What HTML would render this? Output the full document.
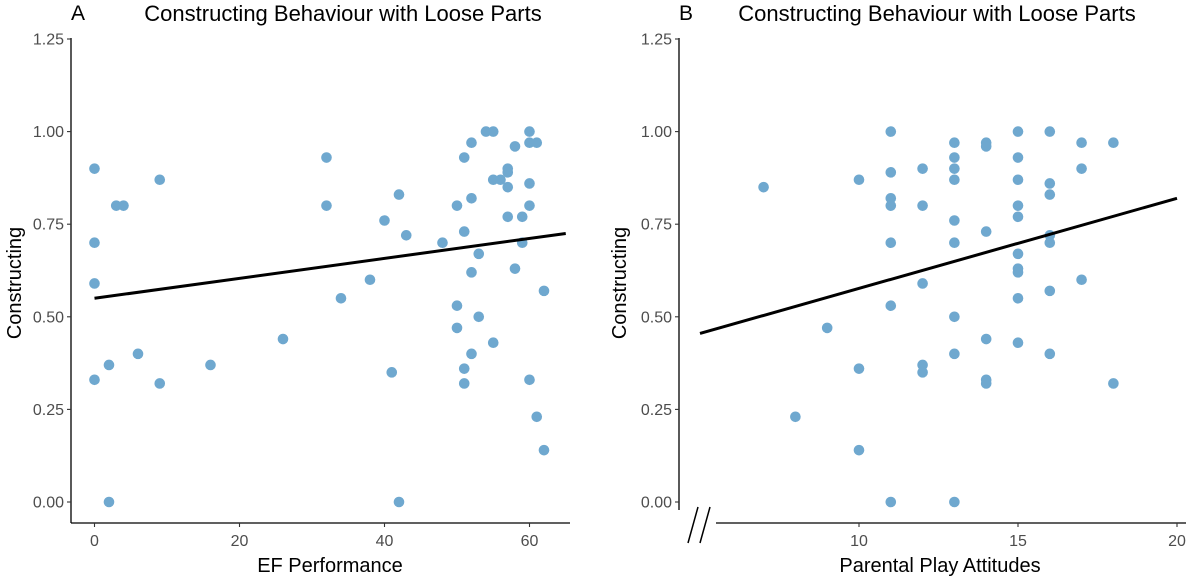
<!DOCTYPE html>
<html><head><meta charset="utf-8"><style>
body{margin:0;background:#fff;}
svg{display:block;font-family:"Liberation Sans",sans-serif;}
</style></head><body>
<svg id="chart" width="1200" height="578" viewBox="0 0 1200 578"></svg>
<script>
const yTicks=[0,0.25,0.5,0.75,1.0,1.25];
const yTickLabels=["0.00","0.25","0.50","0.75","1.00","1.25"];
const aXTicks=[0,20,40,60];
const bXTicks=[10,15,20];
const aEF=[0,0,0,0,2,2,3,4,6,9,9,16,26,32,32,34,38,40,41,42,42,43,48,50,50,50,51,51,51,51,52,52,52,52,53,53,54,55,55,55,56,57,57,57,57,58,58,59,59,60,60,60,60,60,61,61,62,62];
const aConstructing=[0.90,0.70,0.59,0.33,0.37,0,0.80,0.80,0.40,0.87,0.32,0.37,0.44,0.93,0.80,0.55,0.60,0.76,0.35,0.83,0,0.72,0.70,0.80,0.53,0.47,0.93,0.73,0.36,0.32,0.97,0.82,0.62,0.40,0.67,0.50,1.0,1.0,0.87,0.43,0.87,0.90,0.89,0.85,0.77,0.96,0.63,0.77,0.70,1.0,0.97,0.86,0.80,0.33,0.97,0.23,0.57,0.14];
const aFitX=[0,65];
const aFitY=[0.55,0.725];
const bParental=[7,8,9,10,10,10,11,11,11,11,11,11,11,12,12,12,12,12,13,13,13,13,13,13,13,13,13,14,14,14,14,14,14,15,15,15,15,15,15,15,15,15,15,16,16,16,16,16,16,16,17,17,17,18,18];
const bConstructing=[0.85,0.23,0.47,0.87,0.36,0.14,1.0,0.89,0.82,0.80,0.70,0.53,0,0.90,0.80,0.59,0.37,0.35,0.97,0.93,0.90,0.87,0.76,0.70,0.50,0.40,0,0.97,0.96,0.73,0.44,0.33,0.32,1.0,0.93,0.87,0.80,0.77,0.67,0.63,0.62,0.55,0.43,1.0,0.86,0.83,0.72,0.70,0.57,0.40,0.97,0.90,0.60,0.97,0.32];
const bFitX=[5,20];
const bFitY=[0.455,0.82];

const NS="http://www.w3.org/2000/svg";
const svg=document.getElementById('chart');
function el(tag,attrs,parent){const e=document.createElementNS(NS,tag);for(const k in attrs)e.setAttribute(k,attrs[k]);(parent||svg).appendChild(e);return e;}
const yScale=v=>502-v/0.25*92.6;
const xA=v=>94.5+v*(145/20);
const xB=v=>859+(v-10)*(159/5);

function panel(cfg){
  const g=el('g',{});
  
  
  const ya=el('line',{x1:cfg.axX,y1:38,x2:cfg.axX,y2:cfg.yEnd,stroke:'#000','stroke-width':1.3},g);
  
  yTicks.forEach((t,i)=>{
    const y=yScale(t);
    const tk=el('line',{x1:cfg.axX-4,y1:y,x2:cfg.axX,y2:y,stroke:'#333','stroke-width':1.1},g);
    
    const tl=el('text',{x:cfg.axX-7,y:y+5.5,'text-anchor':'end','font-size':16,fill:'#4d4d4d'},g);
    tl.textContent=yTickLabels[i];
    
  });
  const xa=el('line',{x1:cfg.xStart,y1:523,x2:cfg.xEnd,y2:523,stroke:'#000','stroke-width':1.3},g);
  
  cfg.xTicks.forEach(t=>{
    const x=cfg.xs(t);
    const tk=el('line',{x1:x,y1:523,x2:x,y2:527,stroke:'#333','stroke-width':1.1},g);
    
    const tl=el('text',{x:x,y:546,'text-anchor':'middle','font-size':16,fill:'#4d4d4d'},g);
    tl.textContent=t;
    
  });
  cfg.xv.forEach((v,i)=>{
    const c=el('circle',{cx:cfg.xs(v),cy:yScale(cfg.yv[i]),r:5.3,fill:'#6fa8cf'},g);
    
  });
  const fl=el('line',{x1:cfg.xs(cfg.fx[0]),y1:yScale(cfg.fy[0]),x2:cfg.xs(cfg.fx[1]),y2:yScale(cfg.fy[1]),stroke:'#000','stroke-width':3},g);
  
  const xt=el('text',{x:cfg.xTitleX,y:572,'text-anchor':'middle','font-size':20,fill:'#000'},g);
  xt.textContent=cfg.xTitle;
  const yt=el('text',{x:0,y:0,'text-anchor':'middle','font-size':20,fill:'#000',transform:`translate(${cfg.yTitleX},283) rotate(-90)`},g);
  yt.textContent='Constructing';
  const lt=el('text',{x:cfg.letterX,y:20,'font-size':21,fill:'#000'},g);
  lt.textContent=cfg.letter;
  const tt=el('text',{x:cfg.titleX,y:21,'text-anchor':'middle','font-size':22,fill:'#000'},g);
  tt.textContent='Constructing Behaviour with Loose Parts';
}
panel({name:'panel-a',axX:71,yEnd:523,xStart:71,xEnd:570,xTicks:aXTicks,xs:xA,xv:aEF,yv:aConstructing,fx:aFitX,fy:aFitY,xTitle:'EF Performance',xTitleX:330,yTitleX:21,letter:'A',letterX:71,titleX:343});
panel({name:'panel-b',axX:679,yEnd:510,xStart:716,xEnd:1186,xTicks:bXTicks,xs:xB,xv:bParental,yv:bConstructing,fx:bFitX,fy:bFitY,xTitle:'Parental Play Attitudes',xTitleX:940,yTitleX:626,letter:'B',letterX:679,titleX:937});
const br=el('path',{d:'M688,543 L698,507 M700,543 L710,507',stroke:'#000','stroke-width':1.5,fill:'none'});


</script>
</body></html>
